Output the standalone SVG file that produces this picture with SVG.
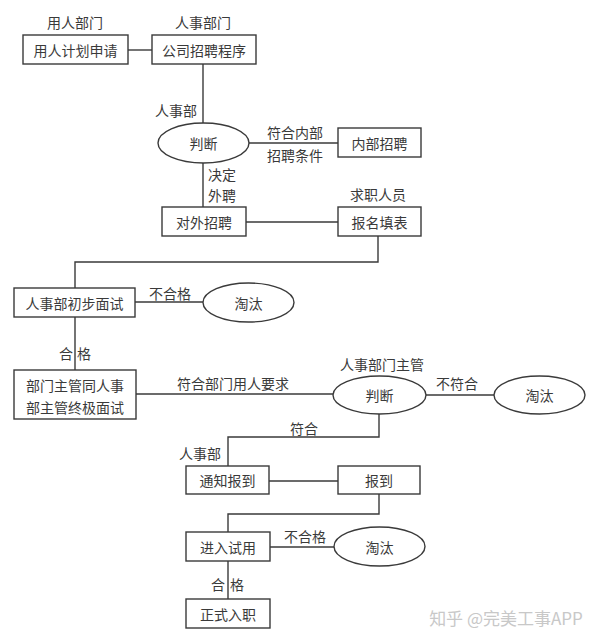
<svg xmlns="http://www.w3.org/2000/svg" width="600" height="641" viewBox="0 0 600 641">
<style>
  text { font-family: "Noto Sans CJK SC", "Noto Sans", sans-serif; font-size: 14px; fill: #3a3a3a; text-anchor: middle; dominant-baseline: central; }
  .box { fill: #fff; stroke: #3a3a3a; stroke-width: 1.4; }
  .ell { fill: #fff; stroke: #3a3a3a; stroke-width: 1.4; }
  .wire { fill: none; stroke: #3a3a3a; stroke-width: 1.4; }
  .wm { fill: #c8c8c8; font-size: 17px; }
</style>
<rect width="600" height="641" fill="#fff"/>
<g id="connectors">
  <line class="wire" x1="128" y1="50" x2="152" y2="50"/>
  <line class="wire" x1="203" y1="64" x2="203" y2="123"/>
  <line class="wire" x1="249" y1="143" x2="338" y2="143"/>
  <line class="wire" x1="203" y1="163" x2="203" y2="207"/>
  <line class="wire" x1="246" y1="222" x2="338" y2="222"/>
  <polyline class="wire" points="378,236 378,262 75,262 75,288"/>
  <line class="wire" x1="135" y1="302" x2="203" y2="302"/>
  <line class="wire" x1="75" y1="317" x2="75" y2="370"/>
  <line class="wire" x1="136" y1="394" x2="333" y2="394"/>
  <line class="wire" x1="426" y1="395" x2="494" y2="395"/>
  <polyline class="wire" points="379,414 379,437 228,437 228,466"/>
  <line class="wire" x1="269" y1="481" x2="338" y2="481"/>
  <polyline class="wire" points="379,494 379,514 228,514 228,532"/>
  <line class="wire" x1="270" y1="547" x2="334" y2="547"/>
  <line class="wire" x1="228" y1="561" x2="228" y2="599"/>
</g>
<g id="labels">
  <text x="75" y="22">用人部门</text>
  <text x="203" y="22">人事部门</text>
  <text x="176" y="110">人事部</text>
  <text x="295" y="132">符合内部</text>
  <text x="295" y="155">招聘条件</text>
  <text x="222" y="174">决定</text>
  <text x="222" y="195">外聘</text>
  <text x="378" y="194">求职人员</text>
  <text x="170" y="293">不合格</text>
  <text x="66" y="353">合</text>
  <text x="84" y="353">格</text>
  <text x="233" y="383">符合部门用人要求</text>
  <text x="382" y="364">人事部门主管</text>
  <text x="457" y="383">不符合</text>
  <text x="304" y="428">符合</text>
  <text x="200" y="453">人事部</text>
  <text x="305" y="536">不合格</text>
  <text x="218" y="584">合</text>
  <text x="237" y="584">格</text>
</g>
<g id="n-plan"><rect class="box" x="23" y="35" width="105" height="29"/><text x="75.5" y="50">用人计划申请</text></g>
<g id="n-procedure"><rect class="box" x="152" y="35" width="104" height="29"/><text x="204" y="50">公司招聘程序</text></g>
<g id="n-judge1"><ellipse class="ell" cx="203.5" cy="143" rx="45.5" ry="20"/><text x="203.5" y="143">判断</text></g>
<g id="n-internal"><rect class="box" x="338" y="128" width="83" height="29"/><text x="379.5" y="142.5">内部招聘</text></g>
<g id="n-external"><rect class="box" x="162" y="207" width="84" height="29"/><text x="204" y="221.5">对外招聘</text></g>
<g id="n-apply"><rect class="box" x="338" y="207" width="83" height="29"/><text x="379.5" y="221.5">报名填表</text></g>
<g id="n-first"><rect class="box" x="14" y="288" width="121" height="29"/><text x="74.5" y="302.5">人事部初步面试</text></g>
<g id="n-out1"><ellipse class="ell" cx="248.5" cy="302.5" rx="45.5" ry="19.5"/><text x="248.5" y="302.5">淘汰</text></g>
<g id="n-final"><rect class="box" x="14" y="370" width="122" height="49"/><text x="75" y="385">部门主管同人事</text><text x="75" y="407">部主管终极面试</text></g>
<g id="n-judge2"><ellipse class="ell" cx="379.5" cy="395" rx="46.5" ry="19"/><text x="379.5" y="395">判断</text></g>
<g id="n-out2"><ellipse class="ell" cx="539.5" cy="395" rx="45.5" ry="19"/><text x="539.5" y="395">淘汰</text></g>
<g id="n-notify"><rect class="box" x="186" y="466" width="83" height="28"/><text x="227.5" y="480">通知报到</text></g>
<g id="n-report"><rect class="box" x="338" y="466" width="82" height="28"/><text x="379" y="480">报到</text></g>
<g id="n-trial"><rect class="box" x="186" y="532" width="84" height="29"/><text x="228" y="546.5">进入试用</text></g>
<g id="n-out3"><ellipse class="ell" cx="379.5" cy="546.5" rx="45.5" ry="19.5"/><text x="379.5" y="546.5">淘汰</text></g>
<g id="n-hire"><rect class="box" x="186" y="599" width="84" height="29"/><text x="228" y="613.5">正式入职</text></g>
<text class="wm" x="506" y="617">知乎 @完美工事APP</text>
</svg>
